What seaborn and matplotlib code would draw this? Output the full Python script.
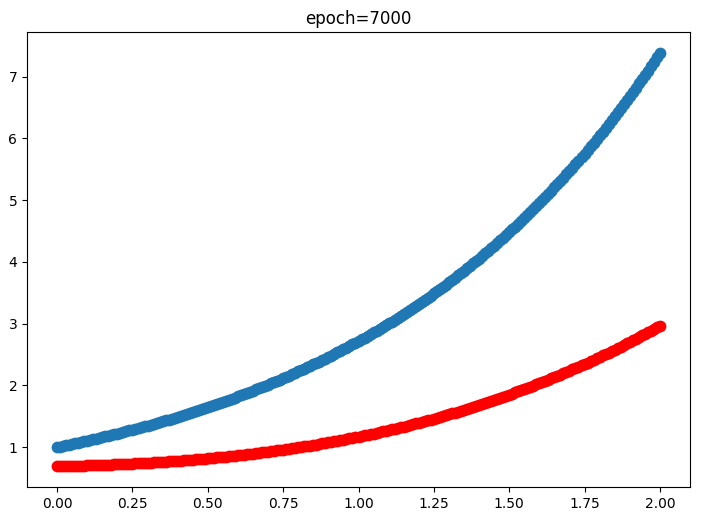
import matplotlib
matplotlib.use("Agg")
import matplotlib.pyplot as plt
import seaborn as sns
import pandas as pd

title = "epoch=7000"

x_values = [
    0.00, 0.01, 0.02, 0.03, 0.04, 0.05, 0.06, 0.07, 0.08, 0.09,
    0.10, 0.11, 0.12, 0.13, 0.14, 0.15, 0.16, 0.17, 0.18, 0.19,
    0.20, 0.21, 0.22, 0.23, 0.24, 0.25, 0.26, 0.27, 0.28, 0.29,
    0.30, 0.31, 0.32, 0.33, 0.34, 0.35, 0.36, 0.37, 0.38, 0.39,
    0.40, 0.41, 0.42, 0.43, 0.44, 0.45, 0.46, 0.47, 0.48, 0.49,
    0.50, 0.51, 0.52, 0.53, 0.54, 0.55, 0.56, 0.57, 0.58, 0.59,
    0.60, 0.61, 0.62, 0.63, 0.64, 0.65, 0.66, 0.67, 0.68, 0.69,
    0.70, 0.71, 0.72, 0.73, 0.74, 0.75, 0.76, 0.77, 0.78, 0.79,
    0.80, 0.81, 0.82, 0.83, 0.84, 0.85, 0.86, 0.87, 0.88, 0.89,
    0.90, 0.91, 0.92, 0.93, 0.94, 0.95, 0.96, 0.97, 0.98, 0.99,
    1.00, 1.01, 1.02, 1.03, 1.04, 1.05, 1.06, 1.07, 1.08, 1.09,
    1.10, 1.11, 1.12, 1.13, 1.14, 1.15, 1.16, 1.17, 1.18, 1.19,
    1.20, 1.21, 1.22, 1.23, 1.24, 1.25, 1.26, 1.27, 1.28, 1.29,
    1.30, 1.31, 1.32, 1.33, 1.34, 1.35, 1.36, 1.37, 1.38, 1.39,
    1.40, 1.41, 1.42, 1.43, 1.44, 1.45, 1.46, 1.47, 1.48, 1.49,
    1.50, 1.51, 1.52, 1.53, 1.54, 1.55, 1.56, 1.57, 1.58, 1.59,
    1.60, 1.61, 1.62, 1.63, 1.64, 1.65, 1.66, 1.67, 1.68, 1.69,
    1.70, 1.71, 1.72, 1.73, 1.74, 1.75, 1.76, 1.77, 1.78, 1.79,
    1.80, 1.81, 1.82, 1.83, 1.84, 1.85, 1.86, 1.87, 1.88, 1.89,
    1.90, 1.91, 1.92, 1.93, 1.94, 1.95, 1.96, 1.97, 1.98, 1.99,
    2.00,
]

blue_values = [
    1.000, 1.010, 1.020, 1.030, 1.041, 1.051, 1.062, 1.073, 1.083, 1.094,
    1.105, 1.116, 1.127, 1.139, 1.150, 1.162, 1.174, 1.185, 1.197, 1.209,
    1.221, 1.234, 1.246, 1.259, 1.271, 1.284, 1.297, 1.310, 1.323, 1.336,
    1.350, 1.363, 1.377, 1.391, 1.405, 1.419, 1.433, 1.448, 1.462, 1.477,
    1.492, 1.507, 1.522, 1.537, 1.553, 1.568, 1.584, 1.600, 1.616, 1.632,
    1.649, 1.665, 1.682, 1.699, 1.716, 1.733, 1.751, 1.768, 1.786, 1.804,
    1.822, 1.840, 1.859, 1.878, 1.896, 1.916, 1.935, 1.954, 1.974, 1.994,
    2.014, 2.034, 2.054, 2.075, 2.096, 2.117, 2.138, 2.160, 2.181, 2.203,
    2.226, 2.248, 2.270, 2.293, 2.316, 2.340, 2.363, 2.387, 2.411, 2.435,
    2.460, 2.484, 2.509, 2.535, 2.560, 2.586, 2.612, 2.638, 2.664, 2.691,
    2.718, 2.746, 2.773, 2.801, 2.829, 2.858, 2.886, 2.915, 2.945, 2.974,
    3.004, 3.034, 3.065, 3.096, 3.127, 3.158, 3.190, 3.222, 3.254, 3.287,
    3.320, 3.353, 3.387, 3.421, 3.456, 3.490, 3.525, 3.561, 3.597, 3.633,
    3.669, 3.706, 3.743, 3.781, 3.819, 3.857, 3.896, 3.935, 3.975, 4.015,
    4.055, 4.096, 4.137, 4.179, 4.221, 4.263, 4.306, 4.349, 4.393, 4.437,
    4.482, 4.527, 4.572, 4.618, 4.665, 4.711, 4.759, 4.807, 4.855, 4.904,
    4.953, 5.003, 5.053, 5.104, 5.155, 5.207, 5.259, 5.312, 5.366, 5.419,
    5.474, 5.529, 5.585, 5.641, 5.697, 5.755, 5.812, 5.871, 5.930, 5.989,
    6.050, 6.110, 6.172, 6.234, 6.297, 6.360, 6.424, 6.488, 6.554, 6.619,
    6.686, 6.753, 6.821, 6.890, 6.959, 7.029, 7.099, 7.171, 7.243, 7.316,
    7.389,
]

red_values = [
    0.690, 0.691, 0.692, 0.694, 0.695, 0.696, 0.698, 0.699, 0.701, 0.702,
    0.704, 0.705, 0.707, 0.709, 0.711, 0.712, 0.714, 0.716, 0.718, 0.720,
    0.723, 0.725, 0.727, 0.729, 0.732, 0.734, 0.737, 0.740, 0.742, 0.745,
    0.748, 0.751, 0.754, 0.757, 0.760, 0.763, 0.766, 0.769, 0.773, 0.776,
    0.780, 0.784, 0.787, 0.791, 0.795, 0.799, 0.803, 0.807, 0.811, 0.816,
    0.820, 0.824, 0.829, 0.834, 0.838, 0.843, 0.848, 0.853, 0.858, 0.864,
    0.869, 0.874, 0.880, 0.885, 0.891, 0.897, 0.903, 0.909, 0.915, 0.921,
    0.927, 0.934, 0.940, 0.947, 0.954, 0.961, 0.968, 0.975, 0.982, 0.989,
    0.997, 1.004, 1.012, 1.019, 1.027, 1.035, 1.043, 1.052, 1.060, 1.069,
    1.077, 1.086, 1.095, 1.104, 1.113, 1.122, 1.131, 1.141, 1.150, 1.160,
    1.170, 1.180, 1.190, 1.200, 1.211, 1.221, 1.232, 1.243, 1.254, 1.265,
    1.276, 1.287, 1.299, 1.311, 1.322, 1.334, 1.346, 1.359, 1.371, 1.384,
    1.396, 1.409, 1.422, 1.435, 1.448, 1.462, 1.475, 1.489, 1.503, 1.517,
    1.531, 1.546, 1.560, 1.575, 1.590, 1.605, 1.620, 1.635, 1.651, 1.667,
    1.682, 1.698, 1.715, 1.731, 1.747, 1.764, 1.781, 1.798, 1.815, 1.833,
    1.850, 1.868, 1.886, 1.904, 1.922, 1.940, 1.959, 1.978, 1.997, 2.016,
    2.035, 2.055, 2.075, 2.095, 2.115, 2.135, 2.155, 2.176, 2.197, 2.218,
    2.239, 2.261, 2.282, 2.304, 2.326, 2.348, 2.371, 2.393, 2.416, 2.439,
    2.462, 2.486, 2.509, 2.533, 2.557, 2.581, 2.606, 2.630, 2.655, 2.680,
    2.706, 2.731, 2.757, 2.783, 2.809, 2.835, 2.862, 2.889, 2.916, 2.943,
    2.970,
]

df = pd.DataFrame({"x": x_values, "blue": blue_values, "red": red_values})

plt.rcParams["font.family"] = ["DejaVu Sans"]

fig = plt.figure(figsize=(7.01, 5.21), dpi=100)
ax = fig.add_axes([27 / 701, 34 / 521, 663 / 701, 455 / 521])

sns.scatterplot(data=df, x="x", y="blue", ax=ax, color="#1f77b4", s=72, linewidth=0)
sns.scatterplot(data=df, x="x", y="red", ax=ax, color="red", s=72, linewidth=0)

ax.set_title(title, fontsize=12)
ax.set_xlabel("")
ax.set_ylabel("")
ax.set_xticks([0.0, 0.25, 0.5, 0.75, 1.0, 1.25, 1.5, 1.75, 2.0])
ax.set_xticklabels(["0.00", "0.25", "0.50", "0.75", "1.00", "1.25", "1.50", "1.75", "2.00"])
ax.set_yticks([1, 2, 3, 4, 5, 6, 7])
ax.tick_params(labelsize=10)

fig.savefig("out.png", dpi=100)
